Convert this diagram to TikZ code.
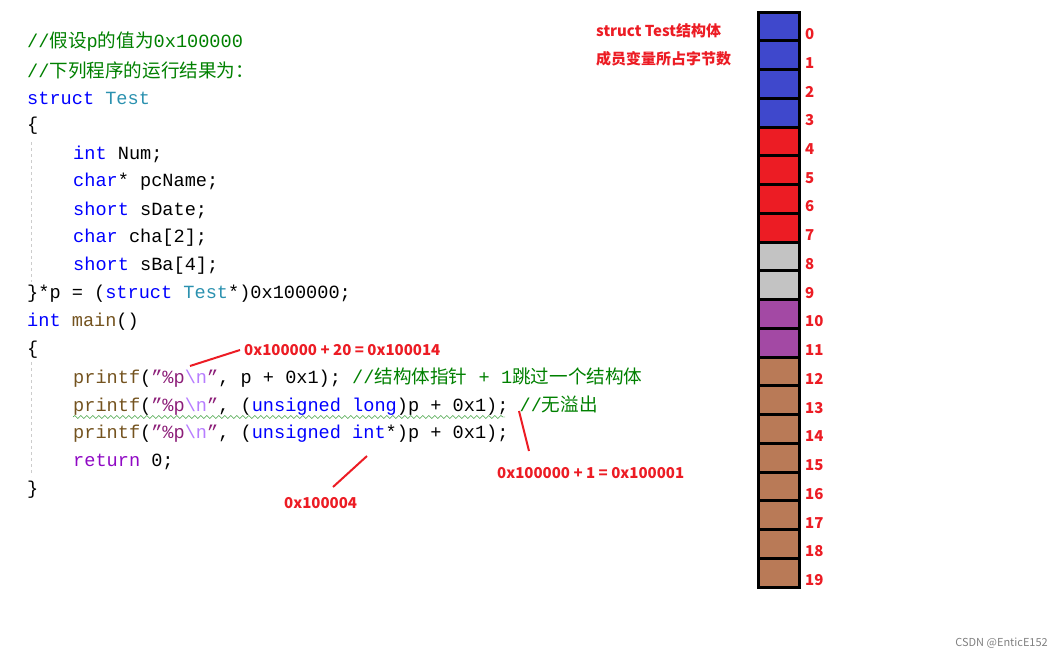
\documentclass[tikz,border=0pt]{standalone}
\usepackage{fontspec}
\setmainfont{Liberation Mono}
\newfontfamily\cjk{Noto Sans CJK SC}
\newfontfamily\lab{Noto Sans CJK SC}
\usetikzlibrary{decorations.pathmorphing}
\definecolor{cgreen}{RGB}{0,128,0}
\definecolor{ckw}{RGB}{0,0,255}
\definecolor{cty}{RGB}{43,145,175}
\definecolor{cfn}{RGB}{116,83,31}
\definecolor{cstr}{RGB}{140,30,120}
\definecolor{cesc}{RGB}{183,125,255}
\definecolor{cret}{RGB}{143,8,196}
\definecolor{cred}{RGB}{236,28,36}
\definecolor{cblue}{RGB}{63,72,204}
\definecolor{cpur}{RGB}{163,73,164}
\definecolor{cgray}{RGB}{195,195,195}
\definecolor{cbrown}{RGB}{185,122,87}
\begin{document}
\begin{tikzpicture}[x=1pt,y=-1pt,
  code/.style={anchor=west,inner sep=0,font=\fontsize{18.6}{20}\selectfont},
  lbl/.style={text=cred,inner sep=0,font=\lab\bfseries\fontsize{15}{16}\selectfont},
  redline/.style={draw=cred,line width=2pt},
  cell/.style={draw=black,line width=3pt}]
\useasboundingbox (0,0) rectangle (1063,659);
% guides
\draw[gray!40,dashed] (31,142) -- (31,282);
\draw[gray!40,dashed] (31,362) -- (31,476);
% code
\newcommand\C[1]{{\cjk #1}}
\node[code] (l1) at (27,42) {\textcolor{cgreen}{//\C{假设}p\C{的值为}0x100000}};
\node[code] (l2) at (27,70) {\textcolor{cgreen}{//\C{下列程序的运行结果为：}}};
\node[code] (l3) at (27,98) {\textcolor{ckw}{struct} \textcolor{cty}{Test}};
\node[code] (l4) at (27,126) {\{};
\node[code] (l5) at (73,154) {\textcolor{ckw}{int} Num;};
\node[code] (l6) at (73,182) {\textcolor{ckw}{char}* pcName;};
\node[code] (l7) at (73,210) {\textcolor{ckw}{short} sDate;};
\node[code] (l8) at (73,238) {\textcolor{ckw}{char} cha[2];};
\node[code] (l9) at (73,266) {\textcolor{ckw}{short} sBa[4];};
\node[code] (l10) at (27,294) {\}*p = (\textcolor{ckw}{struct} \textcolor{cty}{Test}*)0x100000;};
\node[code] (l11) at (27,322) {\textcolor{ckw}{int} \textcolor{cfn}{main}()};
\node[code] (l12) at (27,350) {\{};
\node[code] (l13) at (73,378) {\textcolor{cfn}{printf}(\textcolor{cstr}{"\%p}\textcolor{cesc}{\textbackslash n}\textcolor{cstr}{"}, p + 0x1); \textcolor{cgreen}{//\C{结构体指针} + 1\C{跳过一个结构体}}};
\node[code] (l14) at (73,406) {\textcolor{cfn}{printf}(\textcolor{cstr}{"\%p}\textcolor{cesc}{\textbackslash n}\textcolor{cstr}{"}, (\textcolor{ckw}{unsigned long})p + 0x1); \textcolor{cgreen}{//\C{无溢出}}};
\node[code] (l15) at (73,434) {\textcolor{cfn}{printf}(\textcolor{cstr}{"\%p}\textcolor{cesc}{\textbackslash n}\textcolor{cstr}{"}, (\textcolor{ckw}{unsigned int}*)p + 0x1);};
\node[code] (l16) at (73,462) {\textcolor{cret}{return} 0;};
\node[code] (l17) at (27,490) {\}};
\draw[cgreen,decorate,decoration={snake,amplitude=1.5pt,segment length=6pt}] (73,417) -- (505,417);
% labels
\node[lbl,anchor=west] (a1) at (244,350) {0x100000 + 20 = 0x100014};
\node[lbl,anchor=west] (a2) at (497,473) {0x100000 + 1 = 0x100001};
\node[lbl,anchor=west] (a3) at (284,503) {0x100004};
\node[lbl,anchor=west] (h1) at (596,31) {struct Test结构体};
\node[lbl,anchor=west] (h2) at (596,59) {成员变量所占字节数};
\coordinate (p1) at (190,366); \coordinate (q1) at (240,350);
\coordinate (p2) at (519,411); \coordinate (q2) at (529,451);
\coordinate (p3) at (333,487); \coordinate (q3) at (367,456);
\draw[redline] (p1) -- (q1);
\draw[redline] (p2) -- (q2);
\draw[redline] (p3) -- (q3);
% memory column
\foreach \i/\c in {0/cblue,1/cblue,2/cblue,3/cblue,4/cred,5/cred,6/cred,7/cred,8/cgray,9/cgray,10/cpur,11/cpur,12/cbrown,13/cbrown,14/cbrown,15/cbrown,16/cbrown,17/cbrown,18/cbrown,19/cbrown}{
  \draw[cell,fill=\c] (758,12+28.75*\i) rectangle (799,12+28.75*\i+28.75);
  \node[lbl,anchor=west] (n\i) at (805,12+28.75*\i+22) {\i};
}
\node[anchor=east,inner sep=0,text=gray,font=\lab\fontsize{11}{12}\selectfont] (wm) at (1048,643) {CSDN @EnticE152};
\end{tikzpicture}
\end{document}
